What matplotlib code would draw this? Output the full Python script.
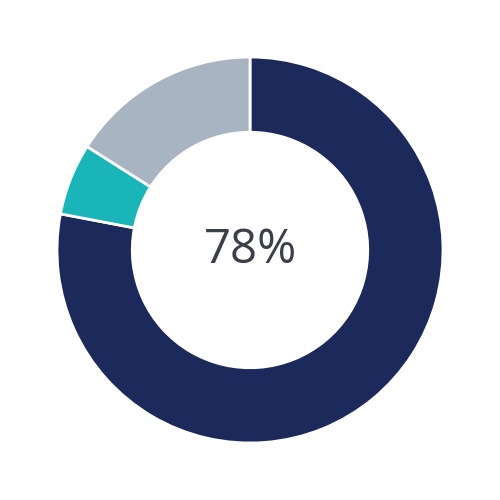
import matplotlib.pyplot as plt

labels = ['Primary', 'Secondary', 'Other']
values = [78, 6, 16]
colors = ['#1b2a5a', '#1ab5b8', '#a9b4c2']
center_text = '78%'

fig = plt.figure(figsize=(5, 5), dpi=100)
ax = fig.add_axes([0, 0, 1, 1])
ax.pie(values, colors=colors, startangle=90, counterclock=False,
       wedgeprops={'width': 0.39, 'edgecolor': 'white', 'linewidth': 2})
ax.text(0, 0, center_text, ha='center', va='center', fontsize=34,
        color='#3a3f4a', family='Open Sans')
lim = 250 / 193
ax.set_xlim(-lim, lim)
ax.set_ylim(-lim, lim)
ax.set_aspect('equal')
ax.axis('off')

fig.savefig('out.png', dpi=100)
